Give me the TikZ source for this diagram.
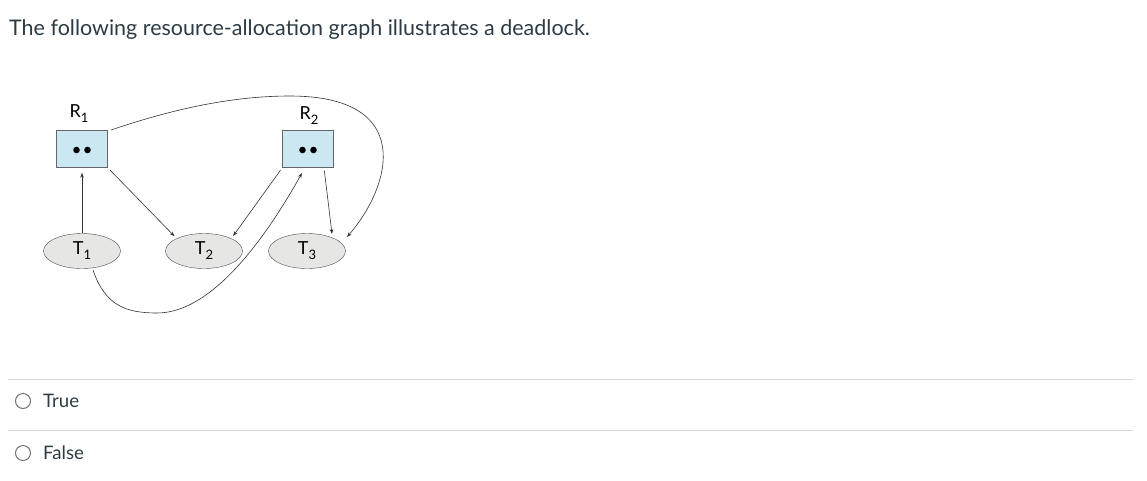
\documentclass[tikz,border=0pt]{standalone}
\usepackage{fontspec}
\setmainfont{Lato}
\usetikzlibrary{shapes.geometric,arrows.meta}
\definecolor{canvastext}{HTML}{2D3B45}
\definecolor{resfill}{HTML}{CBE8F2}
\definecolor{thrfill}{HTML}{E6E6E4}
\definecolor{rulegray}{HTML}{D3D8DB}
\newcommand{\sub}[1]{\raisebox{-0.28em}{\fontsize{13}{13}\selectfont #1}}
\tikzset{
  res/.style={draw=black!60,fill=resfill,minimum width=51pt,minimum height=37pt,inner sep=0pt},
  thr/.style={ellipse,draw=black!70,fill=thrfill,minimum width=77pt,minimum height=35pt,inner sep=0pt,font=\fontsize{18}{18}\selectfont},
  lbl/.style={font=\fontsize{18}{18}\selectfont},
  edge/.style={-{Stealth[length=5pt,width=3.5pt]},black!80,line width=0.6pt},
  radio/.style={circle,draw=black!55,line width=1pt,minimum size=15pt,inner sep=0pt},
  answer/.style={anchor=base west,inner sep=0pt,text=canvastext,font=\fontsize{18.6}{18.6}\selectfont}
}
\begin{document}
\begin{tikzpicture}[x=1pt,y=-1pt]
\useasboundingbox[fill=white] (0,0) rectangle (1147,480) ;

\node[anchor=base west,inner sep=0pt,text=canvastext,font=\fontsize{21.5}{21.5}\selectfont] (title) at (9,35) {The following resource-allocation graph illustrates a deadlock.} ;

\node[res] (r1) at (82,149) {} ;
\node[res] (r2) at (308,149) {} ;
\node[lbl] (r1lbl) at (79,114) {R\sub{1}} ;
\node[lbl] (r2lbl) at (309,116) {R\sub{2}} ;
\fill (r1.center) ++(-5.5,1) circle (3.3) ++(11,0) circle (3.3) ;
\fill (r2.center) ++(-5.5,1) circle (3.3) ++(11,0) circle (3.3) ;

\node[thr] (t1) at (82,251) {T\sub{1}} ;
\node[thr] (t2) at (204,251) {T\sub{2}} ;
\node[thr] (t3) at (307,251) {T\sub{3}} ;

\draw[edge,shorten >=5pt] (t1.north) -- (r1.south) ;
\draw[edge,shorten <=3pt,shorten >=3pt] (r1.south east) -- (t2.north west) ;
\draw[edge,shorten <=3pt,shorten >=3pt] (r2.south west) -- (t2.north east) ;
\coordinate (r2b) at ([xshift=16pt]r2.south) ;
\coordinate (t3t) at (332,234) ;
\draw[edge,shorten <=3pt] (r2b) -- (t3t) ;
\coordinate (t1b) at (93,270) ;
\coordinate (r2in) at (302,173) ;
\draw[edge] (t1b) .. controls (105,305) and (125,313) .. (157,313) .. controls (215,313) and (270,230) .. (r2in) ;
\coordinate (r1out) at (111,130) ;
\coordinate (t3in) at (347,237) ;
\draw[edge] (r1out) .. controls (170,110) and (230,96) .. (290,96) .. controls (415,96) and (392,185) .. (t3in) ;

\draw[rulegray,line width=1pt] (8,379) -- (1133,379) ;
\draw[rulegray,line width=1pt] (8,430) -- (1133,430) ;
\node[radio] (opt1) at (23,401) {} ;
\node[radio] (opt2) at (23,453) {} ;
\node[answer] (truelbl) at (43,407) {True} ;
\node[answer] (falselbl) at (43,459) {False} ;
\end{tikzpicture}
\end{document}
